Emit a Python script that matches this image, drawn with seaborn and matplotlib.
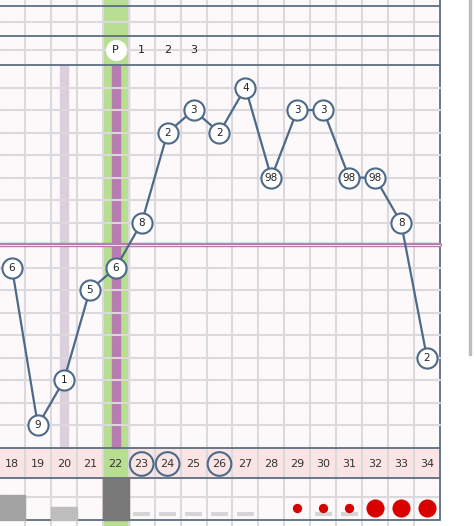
import numpy as np
import pandas as pd
import matplotlib
matplotlib.use("Agg")
import matplotlib.pyplot as plt
import seaborn as sns

days = list(range(18, 35))
temps = [97.6, 96.9, 97.1, 97.5, 97.6, 97.8, 98.2, 98.3, 98.2, 98.4, 98.0, 98.3, 98.3, 98.0, 98.0, 97.8, 97.2]
temp_labels = ["6", "9", "1", "5", "6", "8", "2", "3", "2", "4", "98", "3", "3", "98", "98", "8", "2"]
coverline = 97.7
circled_days = [23, 24, 26]
peak_day = 22
peak_labels = ["P", "1", "2", "3"]
spot_day = 20
flow_days = [18, 20, 22]
flow_heights = [0.6, 0.3, 1.0]
flow_colors = ["#a3a3a3", "#bdbdbd", "#787878"]
dash_days = [23, 24, 25, 26, 27, 30, 31]
dot_days = [29, 30, 31, 32, 33, 34]
dot_sizes = [1, 1, 1, 2, 2, 2]

sns.set_theme(style="white")
plt.rcParams['font.family'] = ['DejaVu Sans']

W, H = 474, 526
fig = plt.figure(figsize=(W/100, H/100), dpi=100)
fig.patch.set_facecolor("white")
pxday = 25.94
x0 = 17.5 + 1/pxday
x1 = x0 + W/pxday

bg = fig.add_axes([0, 0, 1, 1])
bg.set_xlim(x0, x1); bg.set_ylim(H, 0); bg.axis("off")
right = 34.5
bg.fill_between([x0, right], 0, 520, color="#fdf9fb", zorder=0)
bg.fill_between([x0, right], 448, 478, color="#fbe4e4", zorder=0.5)
bg.fill_between([peak_day-0.5, peak_day+0.5], 0, H, color="#b8de92", zorder=1)
for k in range(0, 17):
    bg.plot([17.5+k, 17.5+k], [0, H], color="#dcd9de", lw=1.5, zorder=1.5)
for y in [22, 50, 497]:
    bg.plot([x0, right], [y, y], color="#dcd9de", lw=1.5, zorder=1.5)
for y in [6, 36, 65, 448, 478, 520]:
    bg.plot([x0, right], [y, y], color="#5c6f82", lw=1.3, zorder=3)
bg.plot([right, right], [0, 520], color="#5c6f82", lw=1.3, zorder=3)
bg.fill_between([x1-0.2, x1-0.12], 0, 355, color="#bdbdbd", zorder=3)
bg.fill_between([spot_day-0.15, spot_day+0.15], 65, 448, color="#dcd0dc", zorder=2)
bg.fill_between([peak_day-0.15, peak_day+0.15], 65, 448, color="#b87db0", zorder=2)
for i, lab in enumerate(peak_labels):
    if lab == "P":
        bg.scatter([peak_day], [50], s=200, color="white", zorder=4)
        bg.text(peak_day, 50, lab, ha="center", va="center", fontsize=8, zorder=5, color="#222")
    else:
        bg.text(peak_day+i, 50, lab, ha="center", va="center", fontsize=8, color="#222", zorder=5)
for d in days:
    bg.text(d, 464, str(d), ha="center", va="center", fontsize=8, color="#333", zorder=5)
    if d in circled_days:
        bg.scatter([d], [464], s=290, facecolor="none", edgecolor="#4d6a88", linewidth=1.5, zorder=5)
for d, h, c in zip(flow_days, flow_heights, flow_colors):
    bg.fill_between([d-0.5, d+0.5], 520-42*h, 520, color=c, zorder=3)
for d in dash_days:
    bg.plot([d-0.33, d+0.33], [514, 514], color="#d6d6d6", lw=3, zorder=3, solid_capstyle="butt")
for d, s in zip(dot_days, dot_sizes):
    bg.scatter([d], [508], s=(45 if s == 1 else 170), color="#d90000", zorder=4, linewidth=0)

ta = fig.add_axes([0, (H-448)/H, 1, (448-65)/H])
ta.set_xlim(x0, x1); ta.set_ylim(96.8, 98.5)
ta.patch.set_alpha(0); ta.axis("off")
for t in np.arange(96.9, 98.45, 0.1):
    ta.plot([x0, right], [t, t], color="#dcd9de", lw=1.5, zorder=1)
ta.plot([x0, right], [coverline, coverline], color="#b87db0", lw=3.2, zorder=2)
ta.plot([x0, right], [coverline, coverline], color="#f3e6f0", lw=0.7, zorder=2.1)
df = pd.DataFrame({"day": days, "temp": temps})
sns.lineplot(data=df, x="day", y="temp", ax=ta, color="#4d6a88", lw=1.6, marker="o",
             markersize=14.5, markerfacecolor="white", markeredgecolor="#4d6a88",
             markeredgewidth=1.5, zorder=5)
for d, t, lab in zip(days, temps, temp_labels):
    ta.text(d, t, lab, ha="center", va="center", fontsize=7.5, color="#222", zorder=6)
ta.set_xlim(x0, x1); ta.set_ylim(96.8, 98.5)
fig.savefig("out.png", dpi=100)
